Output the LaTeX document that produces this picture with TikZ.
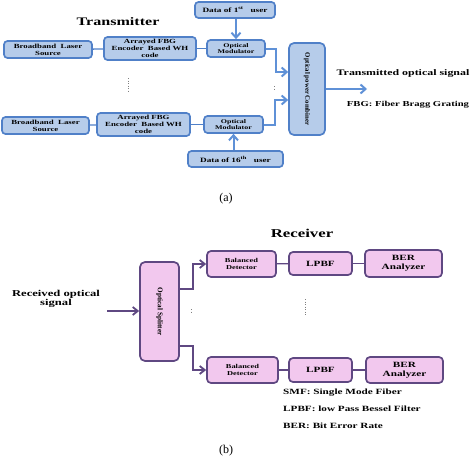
\documentclass[tikz,border=0pt]{standalone}
\usepackage{fontspec}
\setmainfont{Liberation Serif}
\newfontfamily\wf{Liberation Serif}[FakeStretch=1.4]
\usetikzlibrary{arrows.meta,calc}
\definecolor{tfill}{RGB}{182,204,234}
\definecolor{tline}{RGB}{80,128,200}
\definecolor{tarr}{RGB}{95,145,215}
\definecolor{rfill}{RGB}{242,200,238}
\definecolor{rline}{RGB}{95,72,130}
\begin{document}
\begin{tikzpicture}[x=1pt,y=-1pt,
 tbox/.style={draw=tline, fill=tfill, line width=1.7pt, rounded corners=3.5pt, inner sep=0pt, align=center, font=\wf\bfseries\fontsize{6.3}{6.8}\selectfont},
 rbox/.style={draw=rline, fill=rfill, line width=1.7pt, rounded corners=4pt, inner sep=0pt, align=center, font=\wf\bfseries\fontsize{8}{9}\selectfont},
 tlink/.style={draw=tline, line width=1.4pt},
 rlink/.style={draw=rline, line width=1.4pt},
 tarrow/.style={draw=tarr, line width=2pt, -{Straight Barb[length=5pt,width=9pt]}},
 rarrow/.style={draw=rline, line width=1.8pt, -{Straight Barb[length=5pt,width=8pt]}},
 lbl/.style={inner sep=0pt, align=center, font=\wf\bfseries\fontsize{8.5}{9.5}\selectfont},
 dotsv/.style={draw=gray, line width=0.5pt, dotted}
]
\useasboundingbox (0,0) rectangle (474,463);
% ---------- Transmitter ----------
\node[lbl, font=\wf\bfseries\fontsize{11.5}{12}\selectfont] (ttitle) at (118,22) {Transmitter};
\node[tbox, minimum width=88pt, minimum height=17pt] (bls1) at (48,49.5) {Broadband\ \ Laser\\Source};
\node[tbox, minimum width=92pt, minimum height=23pt] (afbg1) at (150,48.5) {Arrayed FBG\\Encoder\ \ Based WH\\code};
\node[tbox, minimum width=58pt, minimum height=17pt, font=\wf\bfseries\fontsize{5.7}{6.4}\selectfont] (om1) at (236,48.5) {Optical\\Modulator};
\node[tbox, minimum width=80pt, minimum height=16pt, font=\wf\bfseries\fontsize{6.6}{7}\selectfont] (d1) at (235,10) {Data of 1\textsuperscript{st}\ \ \ user};
\node[tbox, minimum width=87pt, minimum height=17pt] (bls2) at (45.5,125.5) {Broadband\ \ Laser\\Source};
\node[tbox, minimum width=93pt, minimum height=23pt] (afbg2) at (143.5,124.5) {Arrayed FBG\\Encoder\ \ Based WH\\code};
\node[tbox, minimum width=59pt, minimum height=17pt, font=\wf\bfseries\fontsize{5.7}{6.4}\selectfont] (om2) at (233.5,124.5) {Optical\\Modulator};
\node[tbox, minimum width=95pt, minimum height=16pt, font=\wf\bfseries\fontsize{6.6}{7}\selectfont] (d16) at (235.5,159) {Data of 16\textsuperscript{th}\ \ \ user};
\node[tbox, minimum width=36pt, minimum height=92pt, rounded corners=5pt] (comb) at (307,89) {};
\node[rotate=-90, inner sep=0pt, font=\bfseries\fontsize{6.8}{7.5}\selectfont] (combt) at (comb.center) {Optical power Combiner};
\node[lbl] (txsig) at (403,73) {Transmitted optical signal};
\node[lbl, font=\wf\bfseries\fontsize{7.6}{8}\selectfont] (fbg) at (408,105) {FBG: Fiber Bragg Grating};
\coordinate (txend) at (367,89);

\draw[tlink] (bls1) -- (afbg1);
\draw[tlink] (afbg1) -- (om1);
\draw[tlink] (bls2) -- (afbg2);
\draw[tlink] (afbg2) -- (om2);
\draw[tarrow] (d1.south -| om1) -- (om1.north);
\draw[tarrow] (d16.north -| om2) -- (om2.south);
\draw[tarrow] (om1.east) -- ++(10,0) |- ($(comb.west)+(0,-17)$);
\draw[tarrow] (om2.east) -- ++(11,0) |- ($(comb.west)+(0,11)$);
\draw[tarrow] (comb.east) -- (txend);
\coordinate (dA1) at (128,78); \coordinate (dA2) at (128,92);
\draw[dotsv] (dA1) -- (dA2);
\coordinate (dB1) at (274,86); \coordinate (dB2) at (274,90);
\draw[dotsv] (dB1) -- (dB2);
\node[inner sep=0pt, font=\fontsize{12}{13}\selectfont] (capa) at (226,199) {(a)};

% ---------- Receiver ----------
\node[lbl, font=\wf\bfseries\fontsize{12}{13}\selectfont] (rtitle) at (302,233) {Receiver};
\node[lbl, font=\wf\bfseries\fontsize{9}{9.5}\selectfont] (rxsig) at (56,299) {Received optical\\signal};
\coordinate (rxstart) at (107,311);
\node[rbox, minimum width=39pt, minimum height=99pt, rounded corners=5pt] (split) at (159.5,311.5) {};
\node[rotate=-90, inner sep=0pt, font=\bfseries\fontsize{7.2}{8}\selectfont] (splitt) at (split.center) {Optical Splitter};
\node[rbox, minimum width=69pt, minimum height=26pt, font=\wf\bfseries\fontsize{6}{7}\selectfont] (bd1) at (241.5,264) {Balanced\\Detector};
\node[rbox, minimum width=63pt, minimum height=23pt] (lp1) at (320.5,263.5) {LPBF};
\node[rbox, minimum width=77pt, minimum height=27pt] (ber1) at (403.5,263.5) {BER\\Analyzer};
\node[rbox, minimum width=71pt, minimum height=26pt, font=\wf\bfseries\fontsize{6}{7}\selectfont] (bd2) at (242.5,370) {Balanced\\Detector};
\node[rbox, minimum width=63pt, minimum height=24pt] (lp2) at (320.5,370) {LPBF};
\node[rbox, minimum width=77pt, minimum height=26pt] (ber2) at (404.5,370) {BER\\Analyzer};

\draw[rarrow] (rxstart) -- (split.west |- rxstart);
\draw[rlink] (bd1) -- (lp1);
\draw[rlink] (lp1) -- (ber1);
\draw[rlink] (bd2) -- (lp2);
\draw[rlink] (lp2) -- (ber2);
\draw[rarrow] ($(split.east)+(0,-22.5)$) -- ++(13,0) |- (bd1.west);
\draw[rarrow] ($(split.east)+(0,34.5)$) -- ++(13,0) |- (bd2.west);
\coordinate (dC1) at (305,299); \coordinate (dC2) at (305,316);
\draw[dotsv] (dC1) -- (dC2);
\coordinate (dD1) at (191,309); \coordinate (dD2) at (191,313);
\draw[dotsv] (dD1) -- (dD2);

\node[lbl, anchor=west, font=\wf\bfseries\fontsize{8}{9}\selectfont] (leg1) at (283,393) {SMF: Single Mode Fiber};
\node[lbl, anchor=west, font=\wf\bfseries\fontsize{8}{9}\selectfont] (leg2) at (283,409) {LPBF: low Pass Bessel Filter};
\node[lbl, anchor=west, font=\wf\bfseries\fontsize{8}{9}\selectfont] (leg3) at (283,426) {BER: Bit Error Rate};
\node[inner sep=0pt, font=\fontsize{12}{13}\selectfont] (capb) at (226,451) {(b)};
\end{tikzpicture}
\end{document}
